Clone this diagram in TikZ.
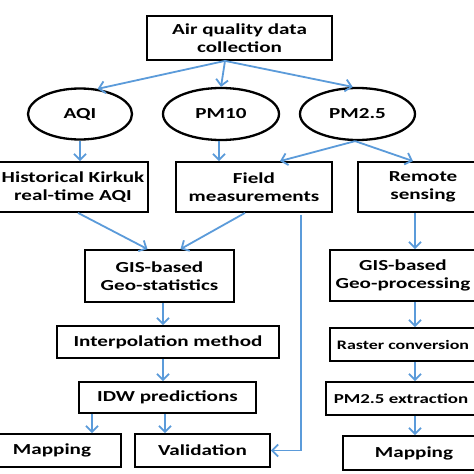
\documentclass[tikz,border=0pt]{standalone}
\usepackage{fontspec}
\setmainfont{Carlito}[FakeStretch=1.38]
\usetikzlibrary{arrows.meta,shapes.geometric,calc}
\definecolor{arrblue}{RGB}{91,155,218}
\begin{document}
\begin{tikzpicture}[x=1pt,y=-1pt,
  box/.style={draw=black,line width=1.8pt,fill=white,inner sep=0pt,align=center,
    font=\fontsize{15.3}{18}\selectfont\bfseries},
  oval/.style={ellipse,draw=black,line width=2.3pt,fill=white,inner sep=0pt,
    font=\fontsize{15.3}{18}\selectfont\bfseries},
  arr/.style={draw=arrblue,line width=1.8pt,-{Straight Barb[length=6pt,width=12pt,line width=1.8pt]}}]
\useasboundingbox (0,0) rectangle (474,474);
\fill[white] (0,0) rectangle (474,474);
\begin{scope}
\clip (0,0) rectangle (474,474);
\node[box,minimum width=185pt,minimum height=44pt] (top) at (239.5,38) {Air quality data\\collection};
\node[oval,minimum width=104pt,minimum height=51pt] (aqi) at (80,114) {AQI};
\node[oval,minimum width=116pt,minimum height=52pt] (pm10) at (221,114) {PM10};
\node[oval,minimum width=115pt,minimum height=52pt] (pm25) at (357.5,114) {PM2.5};
\node[box,minimum width=150pt,minimum height=50pt] (hist) at (73,187) {Historical Kirkuk\\real-time AQI};
\node[box,minimum width=156pt,minimum height=50pt] (field) at (254,187) {Field\\measurements};
\node[box,minimum width=130pt,minimum height=50pt] (remote) at (423,187) {Remote\\sensing};
\node[box,minimum width=149pt,minimum height=52pt] (gstat) at (159.5,276) {GIS-based\\Geo-statistics};
\node[box,minimum width=146pt,minimum height=51pt] (gproc) at (403,275.5) {GIS-based\\Geo-processing};
\node[box,minimum width=222pt,minimum height=32pt] (interp) at (168,342) {Interpolation method};
\node[box,minimum width=177pt,minimum height=31pt] (idw) at (167.5,397.5) {IDW predictions};
\node[box,minimum width=138pt,minimum height=33pt] (map1) at (52,450.5) {Mapping};
\node[box,minimum width=135pt,minimum height=33pt] (valid) at (202.5,450.5) {Validation};
\node[box,minimum width=146pt,minimum height=33pt,font=\fontsize{13}{16}\selectfont\bfseries] (raster) at (403,344.5) {Raster conversion};
\node[box,minimum width=150pt,minimum height=33pt,font=\fontsize{13.7}{16}\selectfont\bfseries] (extr) at (401,398.5) {PM2.5 extraction};
\node[box,minimum width=142pt,minimum height=34pt] (map2) at (414,453) {Mapping};
\end{scope}
\draw[arr] ([xshift=-14.5pt]top.south) -- (aqi.55);
\draw[arr] ([xshift=-14.5pt]top.south) -- (pm10.north);
\draw[arr] ([xshift=-14.5pt]top.south) -- (pm25.100);
\draw[arr] (aqi.south) -- ([xshift=7pt]hist.north);
\draw[arr] ([xshift=-2pt]pm10.south) -- ([xshift=-35pt]field.north);
\draw[arr] (pm25.-95) -- ([xshift=26pt]field.north);
\draw[arr] (pm25.-95) -- ([xshift=-10pt]remote.north);
\draw[arr] ([xshift=5pt]hist.south) -- ([xshift=-12pt]gstat.north);
\draw[arr] ([xshift=-9pt]field.south) -- ([xshift=21pt]gstat.north);
\draw[arr] ([xshift=-8pt]remote.south) -- ([xshift=12pt]gproc.north);
\draw[arr] ([xshift=3.5pt]gstat.south) -- ([xshift=-5pt]interp.north);
\draw[arr] ([xshift=-5pt]interp.south) -- ([xshift=-4.5pt]idw.north);
\draw[arr] ([xshift=-75.5pt]idw.south) -- ([xshift=40pt]map1.north);
\draw[arr] ([xshift=-2.5pt]idw.south) -- ([xshift=-37.5pt]valid.north);
\draw[arr] ([xshift=12pt]gproc.south) -- ([xshift=12pt]raster.north);
\draw[arr] ([xshift=12pt]raster.south) -- ([xshift=14pt]extr.north);
\draw[arr] ([xshift=14pt]extr.south) -- ([xshift=1pt]map2.north);
\draw[arr] ([xshift=47pt,yshift=-2pt]field.south) |- (valid.east);
\end{tikzpicture}
\end{document}
